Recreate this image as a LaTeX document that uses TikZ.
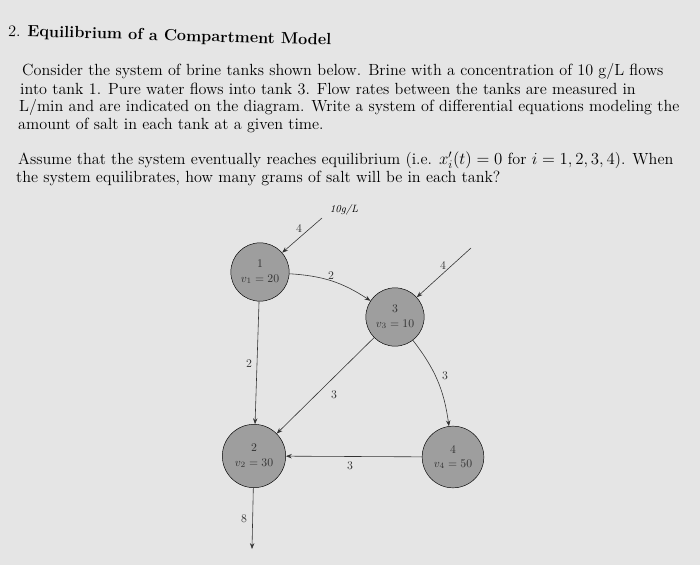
\documentclass[tikz,border=0pt]{standalone}
\usetikzlibrary{arrows.meta}
\begin{document}
\begin{tikzpicture}[x=0.03cm,y=-0.03cm,
  tank/.style={circle,draw=black,fill=black!38,minimum size=1.8cm,inner sep=0pt,align=center,font=\normalsize,text=black!80},
  flow/.style={draw=black!80,line width=0.5pt,-{Stealth[length=5pt]}},
  lab/.style={font=\normalsize,text=black!80},
  txt/.style={anchor=west,inner sep=0pt,font=\fontsize{13.8}{16}\selectfont}]
\fill[black!10] (0,0) rectangle (700,565);
\useasboundingbox (0,0) rectangle (700,565);
\node[txt,rotate=-1.6] (title) at (8,32) {2. \textbf{Equilibrium of a Compartment Model}};
\node[txt] (l1) at (22,71) {Consider the system of brine tanks shown below. Brine with a concentration of 10 g/L flows};
\node[txt] (l2) at (20,89) {into tank 1. Pure water flows into tank 3. Flow rates between the tanks are measured in};
\node[txt] (l3) at (19,107) {L/min and are indicated on the diagram. Write a system of differential equations modeling the};
\node[txt] (l4) at (18,125) {amount of salt in each tank at a given time.};
\node[txt] (l5) at (18,160) {Assume that the system eventually reaches equilibrium (i.e. $x_i'(t)=0$ for $i=1,2,3,4$). When};
\node[txt] (l6) at (16,178) {the system equilibrates, how many grams of salt will be in each tank?};
\node (t1) at (260,272) [tank,minimum size=1.75cm] {1\\$v_1=20$};
\node (t3) at (395,317) [tank,minimum size=1.75cm] {3\\$v_3=10$};
\node (t2) at (254,456) [tank,minimum size=1.9cm] {2\\$v_2=30$};
\node (t4) at (453,457) [tank,minimum size=1.85cm] {4\\$v_4=50$};
\coordinate (in1) at (322,218);
\coordinate (in3) at (471,248);
\coordinate (out2) at (252,549);
\draw[flow] (in1) -- (t1);
\draw[flow] (in3) -- (t3);
\draw[flow] (t1) to[bend left=15] (t3);
\draw[flow] (t1) -- (t2);
\draw[flow] (t3) -- (t2);
\draw[flow] (t3) to[bend left=15] (t4);
\draw[flow] (t4) -- (t2);
\draw[flow] (t2) -- (out2);
\node[lab] (a) at (299,229) {4};
\node[lab] (b) at (443,266) {4};
\node[lab] (c) at (331,276) {2};
\node[lab] (d) at (249,364) {2};
\node[lab] (e) at (334,395) {3};
\node[lab] (f) at (445,376) {3};
\node[lab] (g) at (350,466) {3};
\node[lab] (h) at (244,519) {8};
\node (hw) at (344,210) {\itshape\small 10g/L};
\end{tikzpicture}
\end{document}
